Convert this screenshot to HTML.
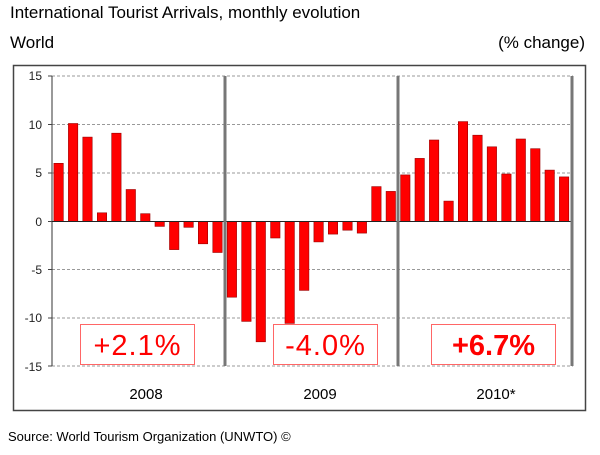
<!DOCTYPE html>
<html><head><style>
body{margin:0;background:#fff;width:600px;height:450px;overflow:hidden;font-family:"Liberation Sans",sans-serif}
</style></head><body>
<svg width="600" height="450" xmlns="http://www.w3.org/2000/svg" font-family="Liberation Sans, sans-serif">
<text x="10" y="18" font-size="17" fill="#000">International Tourist Arrivals, monthly evolution</text>
<text x="10" y="48" font-size="17" fill="#000">World</text>
<text x="585" y="48" font-size="17" fill="#000" text-anchor="end">(% change)</text>
<rect x="13.5" y="65.5" width="572" height="345" fill="none" stroke="#444" stroke-width="1.5"/>
<g stroke="#999" stroke-dasharray="3,2" stroke-width="1">
<line x1="52" y1="76" x2="573" y2="76"/>
<line x1="52" y1="124.5" x2="573" y2="124.5"/>
<line x1="52" y1="173" x2="573" y2="173"/>
<line x1="52" y1="269.5" x2="573" y2="269.5"/>
<line x1="52" y1="318" x2="573" y2="318"/>
<line x1="52" y1="366" x2="573" y2="366"/>
</g>
<g font-size="12" fill="#222" text-anchor="end">
<text x="42" y="80">15</text><text x="42" y="129">10</text><text x="42" y="177">5</text><text x="42" y="226">0</text>
<text x="42" y="274">-5</text><text x="42" y="322">-10</text><text x="42" y="371">-15</text>
</g>
<line x1="52" y1="76" x2="52" y2="366" stroke="#333"/>
<g stroke="#444" stroke-width="1"><line x1="48" y1="76" x2="52" y2="76"/><line x1="48" y1="124.5" x2="52" y2="124.5"/><line x1="48" y1="173" x2="52" y2="173"/><line x1="48" y1="221.5" x2="52" y2="221.5"/><line x1="48" y1="269.5" x2="52" y2="269.5"/><line x1="48" y1="318" x2="52" y2="318"/><line x1="48" y1="366" x2="52" y2="366"/></g>
<g fill="#f00" stroke="#900" stroke-width="0.6">
<rect x="53.9" y="163.3" width="9.4" height="58.2"/>
<rect x="68.4" y="123.5" width="9.4" height="98.0"/>
<rect x="82.8" y="137.1" width="9.4" height="84.4"/>
<rect x="97.3" y="212.8" width="9.4" height="8.7"/>
<rect x="111.7" y="133.2" width="9.4" height="88.3"/>
<rect x="126.1" y="189.5" width="9.4" height="32.0"/>
<rect x="140.6" y="213.7" width="9.4" height="7.8"/>
<rect x="155.0" y="221.5" width="9.4" height="4.9"/>
<rect x="169.5" y="221.5" width="9.4" height="28.1"/>
<rect x="183.9" y="221.5" width="9.4" height="5.8"/>
<rect x="198.3" y="221.5" width="9.4" height="22.3"/>
<rect x="212.8" y="221.5" width="9.4" height="31.0"/>
<rect x="227.2" y="221.5" width="9.4" height="75.7"/>
<rect x="241.7" y="221.5" width="9.4" height="99.9"/>
<rect x="256.1" y="221.5" width="9.4" height="120.3"/>
<rect x="270.6" y="221.5" width="9.4" height="16.5"/>
<rect x="285.0" y="221.5" width="9.4" height="101.9"/>
<rect x="299.5" y="221.5" width="9.4" height="68.9"/>
<rect x="313.9" y="221.5" width="9.4" height="20.4"/>
<rect x="328.3" y="221.5" width="9.4" height="12.6"/>
<rect x="342.8" y="221.5" width="9.4" height="8.7"/>
<rect x="357.2" y="221.5" width="9.4" height="11.6"/>
<rect x="371.7" y="186.6" width="9.4" height="34.9"/>
<rect x="386.1" y="191.4" width="9.4" height="30.1"/>
<rect x="400.6" y="174.9" width="9.4" height="46.6"/>
<rect x="415.0" y="158.4" width="9.4" height="63.1"/>
<rect x="429.4" y="140.0" width="9.4" height="81.5"/>
<rect x="443.9" y="201.1" width="9.4" height="20.4"/>
<rect x="458.3" y="121.6" width="9.4" height="99.9"/>
<rect x="472.8" y="135.2" width="9.4" height="86.3"/>
<rect x="487.2" y="146.8" width="9.4" height="74.7"/>
<rect x="501.7" y="174.0" width="9.4" height="47.5"/>
<rect x="516.1" y="139.0" width="9.4" height="82.5"/>
<rect x="530.6" y="148.7" width="9.4" height="72.8"/>
<rect x="545.0" y="170.1" width="9.4" height="51.4"/>
<rect x="559.4" y="176.9" width="9.4" height="44.6"/>
</g>
<line x1="52" y1="221.5" x2="573" y2="221.5" stroke="#222"/>
<g stroke="#777" stroke-width="3"><line x1="225" y1="76" x2="225" y2="366"/><line x1="398" y1="76" x2="398" y2="366"/><line x1="572" y1="76" x2="572" y2="366"/></g>
<g font-size="29" fill="#f00" text-anchor="middle">
<rect x="80.5" y="324.5" width="114" height="40" fill="#fff" stroke="#f66"/>
<text x="137.5" y="355" letter-spacing="1">+2.1%</text>
<rect x="273.5" y="324.5" width="104" height="40" fill="#fff" stroke="#f66"/>
<text x="325.5" y="355" letter-spacing="1">-4.0%</text>
<rect x="431.5" y="324.5" width="124" height="40" fill="#fff" stroke="#f66"/>
<text x="493.5" y="355" font-weight="bold">+6.7%</text>
</g>
<g font-size="15" fill="#000" text-anchor="middle">
<text x="146" y="399">2008</text><text x="320" y="399">2009</text><text x="496" y="399">2010*</text>
</g>
<text x="8" y="441" font-size="13" fill="#000">Source: World Tourism Organization (UNWTO) ©</text>
</svg>
</body></html>
